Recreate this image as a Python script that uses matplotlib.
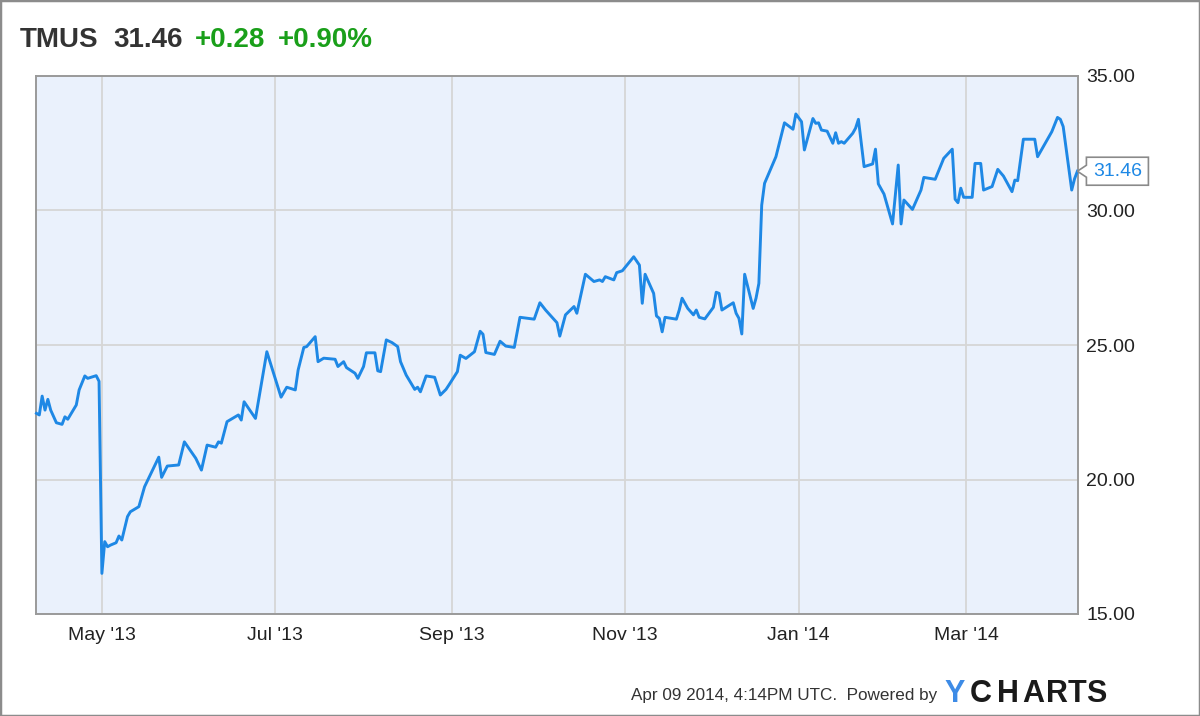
import matplotlib
matplotlib.use("Agg")
import matplotlib.pyplot as plt
import matplotlib.dates as mdates
import matplotlib.ticker as mticker
from matplotlib.patches import Polygon, Rectangle
from matplotlib.transforms import IdentityTransform
import pandas as pd

plt.rcParams['font.family'] = ['Liberation Sans', 'DejaVu Sans']

ticker_symbol = "TMUS"
timestamp_text = "Apr 09 2014, 4:14PM UTC."

dates = [
    "2013-04-08", "2013-04-09", "2013-04-10", "2013-04-11", "2013-04-12", "2013-04-13", "2013-04-15", "2013-04-17", "2013-04-18", "2013-04-19",
    "2013-04-22", "2013-04-23", "2013-04-25", "2013-04-26", "2013-04-29", "2013-04-30", "2013-05-01", "2013-05-02", "2013-05-03", "2013-05-04",
    "2013-05-06", "2013-05-07", "2013-05-08", "2013-05-10", "2013-05-11", "2013-05-14", "2013-05-16", "2013-05-21", "2013-05-22", "2013-05-24",
    "2013-05-28", "2013-05-30", "2013-06-03", "2013-06-05", "2013-06-07", "2013-06-10", "2013-06-11", "2013-06-12", "2013-06-14", "2013-06-18",
    "2013-06-19", "2013-06-20", "2013-06-24", "2013-06-28", "2013-07-03", "2013-07-05", "2013-07-08", "2013-07-09", "2013-07-11", "2013-07-12",
    "2013-07-15", "2013-07-16", "2013-07-18", "2013-07-22", "2013-07-23", "2013-07-25", "2013-07-26", "2013-07-29", "2013-07-30", "2013-08-01",
    "2013-08-02", "2013-08-05", "2013-08-06", "2013-08-07", "2013-08-09", "2013-08-11", "2013-08-13", "2013-08-14", "2013-08-16", "2013-08-19",
    "2013-08-20", "2013-08-21", "2013-08-23", "2013-08-26", "2013-08-28", "2013-08-30", "2013-08-31", "2013-09-03", "2013-09-04", "2013-09-06",
    "2013-09-09", "2013-09-11", "2013-09-12", "2013-09-13", "2013-09-16", "2013-09-18", "2013-09-20", "2013-09-23", "2013-09-25", "2013-09-30",
    "2013-10-02", "2013-10-04", "2013-10-08", "2013-10-09", "2013-10-11", "2013-10-14", "2013-10-15", "2013-10-18", "2013-10-21", "2013-10-23",
    "2013-10-24", "2013-10-25", "2013-10-28", "2013-10-29", "2013-10-31", "2013-11-04", "2013-11-06", "2013-11-07", "2013-11-08", "2013-11-11",
    "2013-11-12", "2013-11-13", "2013-11-14", "2013-11-15", "2013-11-19", "2013-11-20", "2013-11-21", "2013-11-23", "2013-11-25", "2013-11-26",
    "2013-11-27", "2013-11-29", "2013-12-02", "2013-12-03", "2013-12-04", "2013-12-05", "2013-12-09", "2013-12-10", "2013-12-11", "2013-12-12",
    "2013-12-13", "2013-12-16", "2013-12-17", "2013-12-18", "2013-12-19", "2013-12-20", "2013-12-24", "2013-12-27", "2013-12-30", "2013-12-31",
    "2014-01-02", "2014-01-03", "2014-01-06", "2014-01-07", "2014-01-08", "2014-01-09", "2014-01-11", "2014-01-13", "2014-01-14", "2014-01-15",
    "2014-01-16", "2014-01-17", "2014-01-20", "2014-01-21", "2014-01-22", "2014-01-24", "2014-01-27", "2014-01-28", "2014-01-29", "2014-01-31",
    "2014-02-03", "2014-02-05", "2014-02-06", "2014-02-07", "2014-02-10", "2014-02-13", "2014-02-14", "2014-02-18", "2014-02-21", "2014-02-24",
    "2014-02-25", "2014-02-26", "2014-02-27", "2014-02-28", "2014-03-03", "2014-03-04", "2014-03-06", "2014-03-07", "2014-03-10", "2014-03-12",
    "2014-03-14", "2014-03-17", "2014-03-18", "2014-03-19", "2014-03-21", "2014-03-25", "2014-03-26", "2014-03-29", "2014-03-31", "2014-04-02",
    "2014-04-03", "2014-04-04", "2014-04-07", "2014-04-08", "2014-04-09",
]

prices = [
    22.46, 22.40, 23.10, 22.58, 22.98, 22.58, 22.11, 22.05, 22.33, 22.24,
    22.77, 23.33, 23.85, 23.76, 23.86, 23.65, 16.51, 17.69, 17.50, 17.56,
    17.65, 17.90, 17.75, 18.62, 18.80, 18.99, 19.73, 20.83, 20.08, 20.50,
    20.54, 21.40, 20.79, 20.35, 21.28, 21.20, 21.40, 21.35, 22.15, 22.40,
    22.21, 22.89, 22.27, 24.75, 23.06, 23.43, 23.33, 24.07, 24.91, 24.94,
    25.31, 24.38, 24.51, 24.47, 24.20, 24.38, 24.16, 23.95, 23.76, 24.20,
    24.71, 24.71, 24.04, 24.01, 25.19, 25.09, 24.94, 24.38, 23.88, 23.35,
    23.43, 23.26, 23.85, 23.80, 23.14, 23.35, 23.51, 24.01, 24.62, 24.50,
    24.75, 25.51, 25.40, 24.72, 24.65, 25.14, 24.96, 24.91, 26.03, 25.96,
    26.57, 26.30, 25.83, 25.33, 26.12, 26.43, 26.18, 27.63, 27.36, 27.42,
    27.36, 27.54, 27.42, 27.69, 27.76, 28.28, 27.97, 26.55, 27.63, 26.92,
    26.08, 25.99, 25.49, 26.03, 25.96, 26.30, 26.74, 26.36, 26.12, 26.30,
    26.03, 25.97, 26.40, 26.96, 26.92, 26.30, 26.57, 26.18, 25.99, 25.41,
    27.63, 26.36, 26.74, 27.29, 30.20, 31.01, 32.00, 33.26, 33.02, 33.59,
    33.30, 32.25, 33.42, 33.24, 33.26, 32.99, 32.95, 32.50, 32.89, 32.50,
    32.56, 32.50, 32.87, 33.06, 33.39, 31.63, 31.73, 32.28, 30.99, 30.61,
    29.50, 31.69, 29.50, 30.39, 30.04, 30.76, 31.23, 31.16, 31.94, 32.28,
    30.42, 30.29, 30.83, 30.49, 30.49, 31.75, 31.75, 30.76, 30.89, 31.53,
    31.28, 30.70, 31.13, 31.11, 32.65, 32.65, 32.00, 32.56, 32.93, 33.46,
    33.39, 33.12, 30.76, 31.18, 31.46,
]

y_ticks = [15, 20, 25, 30, 35]

LINE = "#1E88E5"
GREEN = "#1a9f1a"
DARK = "#333333"

x = pd.to_datetime(dates)

W, H = 1200, 716
fig = plt.figure(figsize=(W / 100, H / 100), dpi=100)
fig.patch.set_facecolor("white")
ax = fig.add_axes([36 / W, 1 - 614 / H, (1078 - 36) / W, (614 - 76) / H])
ax.set_facecolor("#eaf1fc")

ax.plot(x, prices, color=LINE, lw=2.1, solid_joinstyle="round", zorder=3, clip_on=False)

ax.set_xlim(pd.Timestamp("2013-04-07 20:00"), pd.Timestamp("2014-04-09 05:00"))
ax.set_ylim(y_ticks[0], y_ticks[-1])
ax.set_yticks(y_ticks)
ax.yaxis.set_major_formatter(mticker.FormatStrFormatter("%.2f"))
ax.yaxis.tick_right()
ax.xaxis.set_major_locator(mdates.MonthLocator(bymonth=[1, 3, 5, 7, 9, 11]))
ax.xaxis.set_major_formatter(mdates.DateFormatter("%b '%y"))
ax.tick_params(axis="both", length=0, labelsize=14, labelcolor="#222222")
ax.tick_params(axis="y", pad=6)
ax.tick_params(axis="x", pad=9)
ax.grid(True, color="#d6d6d6", lw=1.3, zorder=1)
ax.set_axisbelow(True)
for s in ax.spines.values():
    s.set_color("#9a9a9a")
    s.set_linewidth(1.4)

# last price tag
last = prices[-1]
change = prices[-1] - prices[-2]
pct = change / prices[-2] * 100
px, py = ax.transData.transform((mdates.date2num(x[-1]), last))
tag = [(px, py), (px + 9, py + 6), (px + 9, py + 14), (px + 71, py + 14),
       (px + 71, py - 14), (px + 9, py - 14), (px + 9, py - 6)]
fig.patches.append(Polygon(tag, closed=True, transform=IdentityTransform(),
                           facecolor="white", edgecolor="#8a8a8a", lw=1.2, zorder=5))
fig.text((px + 40) / W, py / H, f"{last:.2f}", color=LINE, fontsize=14,
         ha="center", va="center", zorder=6)

# header
hy = 1 - 47 / H
fig.text(20 / W, hy, ticker_symbol, fontsize=20, fontweight="bold", color=DARK, va="baseline")
fig.text(113 / W, hy, f"{last:.2f}", fontsize=20, fontweight="bold", color=DARK, va="baseline")
fig.text(195 / W, hy, f"{change:+.2f}", fontsize=20, fontweight="bold", color=GREEN, va="baseline")
fig.text(278 / W, hy, f"{pct:+.2f}%", fontsize=20, fontweight="bold", color=GREEN, va="baseline")

# footer
fy = 1 - 700 / H
fig.text(937 / W, fy, timestamp_text + "  Powered by", fontsize=12.3, color="#333333",
         ha="right", va="baseline")
logo_letters = ["Y", "C", "H", "A", "R", "T", "S"]
logo_x = [955, 981, 1008, 1033, 1057, 1077, 1096]
for ch, lx in zip(logo_letters, logo_x):
    fig.text(lx / W, 1 - 702 / H, ch, fontsize=22, fontweight="bold",
             color="#3d8be6" if ch == "Y" else "#1a1a1a", ha="center", va="baseline")

# outer border
fig.patches.append(Rectangle((0, 0), 1, 1, transform=fig.transFigure, fill=False,
                             edgecolor="#8c8c8c", lw=2.5, zorder=10))

fig.savefig("out.png", dpi=100)
